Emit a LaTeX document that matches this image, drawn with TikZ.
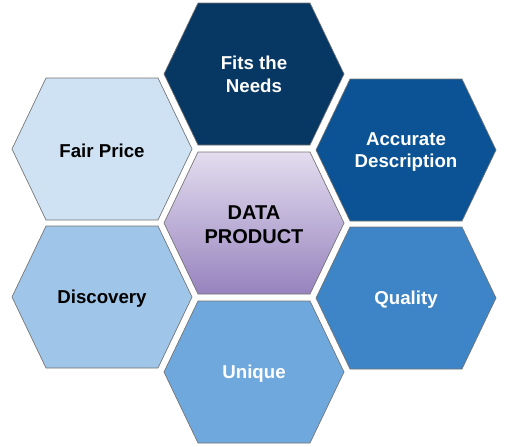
\documentclass[tikz,border=0pt]{standalone}
\usepackage{fontspec}
\setmainfont{Liberation Sans}
\usetikzlibrary{shapes,backgrounds}

\definecolor{needsblue}{HTML}{073763}
\definecolor{accblue}{HTML}{0B5394}
\definecolor{qualblue}{HTML}{3D85C6}
\definecolor{uniqblue}{HTML}{6FA8DC}
\definecolor{discblue}{HTML}{9FC5E8}
\definecolor{priceblue}{HTML}{CFE2F3}
\definecolor{prodtop}{HTML}{E3DDEF}
\definecolor{prodbot}{HTML}{9783BE}

\tikzset{
  hex/.style={draw=black!55, line width=0.5pt},
  lbl/.style={font=\bfseries\fontsize{14}{17}\selectfont, align=center, yshift=-1.5pt}
}
% hexagon around centre #1,#2
\newcommand{\hexa}[3]{\path[hex,#3] (#1,#2) ++(-90,0) -- ++(34,-71) -- ++(112,0) -- ++(34,71) -- ++(-34,71) -- ++(-112,0) -- cycle;}

\begin{document}
\begin{tikzpicture}[x=0.75pt,y=-0.75pt]
\useasboundingbox (0,0) rectangle (506,446);
\hexa{254}{74}{fill=needsblue}
\hexa{102}{149}{fill=priceblue}
\hexa{406}{150}{fill=accblue}
\hexa{254}{223}{top color=prodtop,bottom color=prodbot}
\hexa{102}{297}{fill=discblue}
\hexa{406}{298}{fill=qualblue}
\hexa{254}{372}{fill=uniqblue}
\node[lbl,text=white,yshift=1.5pt] (needs) at (254,74) {Fits the\\Needs};
\node[lbl] (price) at (102,149) {Fair Price};
\node[lbl,text=white] (descr) at (406,150) {Accurate\\Description};
\node[lbl,font=\bfseries\fontsize{15}{18}\selectfont] (prod) at (254,223) {DATA\\PRODUCT};
\node[lbl] (disc) at (102,297) {Discovery};
\node[lbl,text=white] (qual) at (406,298) {Quality};
\node[lbl,text=white] (uniq) at (254,372) {Unique};
\end{tikzpicture}
\end{document}
